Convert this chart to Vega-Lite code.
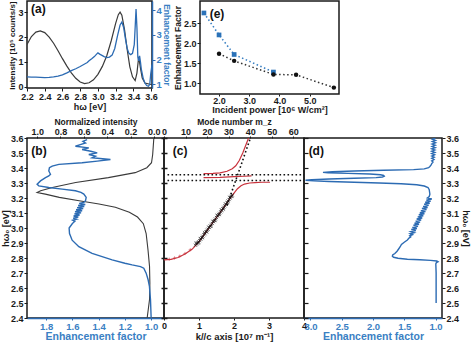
{
  "$schema": "https://vega.github.io/schema/vega-lite/v6.json",
  "padding": {"left": 0, "top": 0, "right": 0, "bottom": 0},
  "background": "white",
  "spacing": 1,
  "config": {
    "view": {"stroke": "#1a1a1a", "strokeWidth": 1.5},
    "axis": {"grid": false, "domain": false, "labelFont": "Liberation Sans", "titleFont": "Liberation Sans", "labelFontWeight": "bold", "titleFontWeight": "bold", "labelFontSize": 9, "titleFontSize": 9, "labelColor": "#1a1a1a", "titleColor": "#1a1a1a", "tickColor": "#1a1a1a", "tickWidth": 1, "labelFlush": false, "labelOverlap": false, "labelBound": false}
  },
  "datasets": {
    "aBlack": [
      {"E":2.2,"v":1.70},{"E":2.25,"v":2.02},{"E":2.3,"v":2.2},{"E":2.35,"v":2.25},{"E":2.4,"v":2.18},{"E":2.45,"v":2.0},{"E":2.5,"v":1.75},{"E":2.55,"v":1.45},{"E":2.6,"v":1.13},{"E":2.65,"v":0.83},{"E":2.7,"v":0.56},{"E":2.75,"v":0.34},{"E":2.8,"v":0.19},{"E":2.85,"v":0.13},{"E":2.9,"v":0.16},{"E":2.95,"v":0.28},{"E":3.0,"v":0.5},{"E":3.05,"v":0.82},{"E":3.1,"v":1.25},{"E":3.15,"v":1.85},{"E":3.2,"v":2.55},{"E":3.23,"v":2.9},{"E":3.25,"v":3.0},{"E":3.27,"v":2.88},{"E":3.3,"v":2.3},{"E":3.33,"v":1.5},{"E":3.36,"v":0.8},{"E":3.39,"v":0.4},{"E":3.42,"v":0.25},{"E":3.44,"v":0.55},{"E":3.46,"v":1.2},{"E":3.48,"v":0.75},{"E":3.5,"v":0.35},{"E":3.53,"v":0.15},{"E":3.61,"v":0.08}
    ],
    "aBlue": [
      {"E":2.2,"ef":1.30},{"E":2.25,"ef":1.29},{"E":2.3,"ef":1.29},{"E":2.35,"ef":1.28},{"E":2.4,"ef":1.27},{"E":2.45,"ef":1.28},{"E":2.5,"ef":1.3},{"E":2.55,"ef":1.33},{"E":2.6,"ef":1.38},{"E":2.65,"ef":1.46},{"E":2.7,"ef":1.55},{"E":2.75,"ef":1.63},{"E":2.8,"ef":1.72},{"E":2.85,"ef":1.82},{"E":2.88,"ef":1.88},{"E":2.9,"ef":1.95},{"E":2.93,"ef":2.03},{"E":2.96,"ef":2.12},{"E":2.98,"ef":2.2},{"E":3.0,"ef":2.27},{"E":3.02,"ef":2.22},{"E":3.04,"ef":2.18},{"E":3.07,"ef":2.12},{"E":3.1,"ef":2.08},{"E":3.13,"ef":2.1},{"E":3.16,"ef":2.18},{"E":3.19,"ef":2.45},{"E":3.22,"ef":2.95},{"E":3.25,"ef":3.4},{"E":3.27,"ef":3.52},{"E":3.29,"ef":3.3},{"E":3.31,"ef":2.85},{"E":3.33,"ef":2.45},{"E":3.35,"ef":2.25},{"E":3.37,"ef":2.2},{"E":3.39,"ef":2.25},{"E":3.41,"ef":2.6},{"E":3.42,"ef":3.3},{"E":3.43,"ef":4.05},{"E":3.44,"ef":3.3},{"E":3.45,"ef":2.1},{"E":3.46,"ef":1.95},{"E":3.47,"ef":2.15},{"E":3.48,"ef":1.9},{"E":3.49,"ef":1.6},{"E":3.51,"ef":1.25},{"E":3.53,"ef":1.05},{"E":3.55,"ef":0.95},{"E":3.57,"ef":0.92},{"E":3.585,"ef":1.0},{"E":3.595,"ef":1.4},{"E":3.61,"ef":1.8}
    ],
    "eBlue": [{"P":1.5,"F":2.76},{"P":2.0,"F":2.21},{"P":2.5,"F":1.72},{"P":3.8,"F":1.28}],
    "eBlack": [{"P":2.0,"F":1.74},{"P":2.5,"F":1.56},{"P":3.8,"F":1.22},{"P":4.55,"F":1.21},{"P":5.8,"F":0.89}],
    "bBlack": [
      {"E":3.6,"I":0.0},{"E":3.49,"I":0.01},{"E":3.435,"I":0.02},{"E":3.402,"I":0.06},{"E":3.369,"I":0.16},{"E":3.336,"I":0.39},{"E":3.303,"I":0.67},{"E":3.27,"I":0.87},{"E":3.248,"I":0.97},{"E":3.237,"I":1.0},{"E":3.226,"I":0.93},{"E":3.204,"I":0.81},{"E":3.182,"I":0.64},{"E":3.16,"I":0.47},{"E":3.138,"I":0.33},{"E":3.105,"I":0.21},{"E":3.073,"I":0.14},{"E":3.029,"I":0.09},{"E":2.963,"I":0.066},{"E":2.853,"I":0.05},{"E":2.743,"I":0.037},{"E":2.633,"I":0.034},{"E":2.523,"I":0.037},{"E":2.402,"I":0.057}
    ],
    "bBlue": [
      {"E":3.589,"ef":1.488},{"E":3.578,"ef":1.52},{"E":3.567,"ef":1.50},{"E":3.556,"ef":1.54},{"E":3.545,"ef":1.577},{"E":3.534,"ef":1.475},{"E":3.523,"ef":1.526},{"E":3.512,"ef":1.46},{"E":3.501,"ef":1.411},{"E":3.49,"ef":1.475},{"E":3.479,"ef":1.424},{"E":3.468,"ef":1.45},{"E":3.457,"ef":1.31},{"E":3.446,"ef":1.41},{"E":3.435,"ef":1.526},{"E":3.424,"ef":1.703},{"E":3.413,"ef":1.754},{"E":3.402,"ef":1.775},{"E":3.38,"ef":1.78},{"E":3.358,"ef":1.767},{"E":3.347,"ef":1.78},{"E":3.336,"ef":1.805},{"E":3.314,"ef":1.843},{"E":3.292,"ef":1.869},{"E":3.281,"ef":1.856},{"E":3.27,"ef":1.78},{"E":3.259,"ef":1.678},{"E":3.248,"ef":1.577},{"E":3.237,"ef":1.535},{"E":3.226,"ef":1.513},{"E":3.204,"ef":1.495},{"E":3.182,"ef":1.50},{"E":3.171,"ef":1.513},
      {"E":3.164,"ef":1.548},{"E":3.157,"ef":1.502},{"E":3.150,"ef":1.556},{"E":3.143,"ef":1.510},{"E":3.136,"ef":1.564},{"E":3.129,"ef":1.518},{"E":3.122,"ef":1.572},{"E":3.115,"ef":1.526},{"E":3.108,"ef":1.580},{"E":3.101,"ef":1.534},{"E":3.094,"ef":1.585},{"E":3.087,"ef":1.545},{"E":3.080,"ef":1.591},{"E":3.073,"ef":1.555},{"E":3.066,"ef":1.594},{"E":3.059,"ef":1.568},{"E":3.052,"ef":1.597},{"E":3.045,"ef":1.581},
      {"E":3.03,"ef":1.60},{"E":3.0,"ef":1.625},{"E":2.963,"ef":1.622},{"E":2.919,"ef":1.602},{"E":2.875,"ef":1.551},{"E":2.831,"ef":1.45},{"E":2.787,"ef":1.297},{"E":2.765,"ef":1.2},{"E":2.754,"ef":1.145},{"E":2.743,"ef":1.081},{"E":2.732,"ef":1.056},{"E":2.699,"ef":1.038},{"E":2.655,"ef":1.023},{"E":2.611,"ef":1.013},{"E":2.523,"ef":1.005},{"E":2.402,"ef":1.0}
    ],
    "cRed": [
      {"k":0.0,"E":2.787,"br":"lo"},{"k":0.2,"E":2.791,"br":"lo"},{"k":0.4,"E":2.803,"br":"lo"},{"k":0.6,"E":2.826,"br":"lo"},{"k":0.8,"E":2.858,"br":"lo"},{"k":0.9,"E":2.883,"br":"lo"},{"k":1.0,"E":2.91,"br":"lo"},{"k":1.2,"E":2.972,"br":"lo"},{"k":1.4,"E":3.038,"br":"lo"},{"k":1.6,"E":3.103,"br":"lo"},{"k":1.8,"E":3.168,"br":"lo"},{"k":1.9,"E":3.2,"br":"lo"},{"k":2.0,"E":3.232,"br":"lo"},{"k":2.1,"E":3.262,"br":"lo"},{"k":2.2,"E":3.282,"br":"lo"},{"k":2.3,"E":3.293,"br":"lo"},{"k":2.45,"E":3.3,"br":"lo"},{"k":2.6,"E":3.303,"br":"lo"},{"k":2.8,"E":3.305,"br":"lo"},{"k":3.03,"E":3.305,"br":"lo"},
      {"k":1.13,"E":3.336,"br":"mid"},{"k":1.6,"E":3.338,"br":"mid"},{"k":2.0,"E":3.342,"br":"mid"},{"k":2.3,"E":3.345,"br":"mid"},{"k":2.5,"E":3.348,"br":"mid"},
      {"k":1.13,"E":3.362,"br":"up"},{"k":1.4,"E":3.364,"br":"up"},{"k":1.6,"E":3.368,"br":"up"},{"k":1.8,"E":3.378,"br":"up"},{"k":1.95,"E":3.395,"br":"up"},{"k":2.05,"E":3.415,"br":"up"},{"k":2.15,"E":3.45,"br":"up"},{"k":2.25,"E":3.5,"br":"up"},{"k":2.35,"E":3.56,"br":"up"},{"k":2.45,"E":3.62,"br":"up"}
    ],
    "cDot": [
      {"k":0.1,"E":3.355,"ln":"h1"},{"k":4.0,"E":3.355,"ln":"h1"},
      {"k":0.1,"E":3.317,"ln":"h2"},{"k":4.0,"E":3.317,"ln":"h2"},
      {"k":1.8,"E":3.15,"ln":"d"},{"k":2.47,"E":3.6,"ln":"d"}
    ],
    "cRedPt": [{"k":0.15,"E":2.792},{"k":0.3,"E":2.8},{"k":0.45,"E":2.812},{"k":0.6,"E":2.83},{"k":0.75,"E":2.855}],
    "cCross": [
      {"k":0.9,"E":2.885},{"k":0.93,"E":2.893},{"k":0.96,"E":2.9},{"k":0.99,"E":2.908},{"k":1.02,"E":2.916},{"k":1.05,"E":2.925},{"k":1.08,"E":2.936},{"k":1.11,"E":2.945},{"k":1.14,"E":2.955},{"k":1.17,"E":2.962},{"k":1.2,"E":2.975},{"k":1.23,"E":2.985},{"k":1.26,"E":2.992},{"k":1.29,"E":3.003},{"k":1.32,"E":3.012},{"k":1.35,"E":3.022},{"k":1.38,"E":3.03},{"k":1.41,"E":3.042},{"k":1.44,"E":3.05},{"k":1.47,"E":3.06},{"k":1.5,"E":3.07},{"k":1.53,"E":3.08},{"k":1.56,"E":3.09},{"k":1.59,"E":3.098},{"k":1.62,"E":3.108},{"k":1.65,"E":3.118},{"k":1.68,"E":3.128},{"k":1.71,"E":3.138},{"k":1.74,"E":3.148},{"k":1.77,"E":3.158},{"k":1.8,"E":3.168},{"k":1.83,"E":3.18},{"k":1.86,"E":3.19},{"k":1.89,"E":3.2},{"k":1.92,"E":3.21},{"k":1.95,"E":3.22},
      {"k":0.92,"E":2.9},{"k":0.98,"E":2.902},{"k":1.04,"E":2.93},{"k":1.1,"E":2.936},{"k":1.16,"E":2.97},{"k":1.22,"E":2.975},{"k":1.28,"E":3.006},{"k":1.34,"E":3.012},{"k":1.4,"E":3.045},{"k":1.46,"E":3.05},{"k":1.52,"E":3.085},{"k":1.58,"E":3.09},{"k":1.64,"E":3.12},{"k":1.7,"E":3.128},{"k":1.76,"E":3.16},{"k":1.82,"E":3.17},{"k":1.88,"E":3.205},{"k":1.94,"E":3.212}
    ],
    "dBlue": [
      {"E":3.6,"ef":1.0},{"E":3.592,"ef":1.05},{"E":3.584,"ef":1.0},{"E":3.576,"ef":1.05},{"E":3.568,"ef":1.0},{"E":3.56,"ef":1.055},{"E":3.552,"ef":1.005},{"E":3.544,"ef":1.055},{"E":3.536,"ef":1.005},{"E":3.528,"ef":1.06},{"E":3.52,"ef":1.01},{"E":3.512,"ef":1.06},{"E":3.504,"ef":1.01},{"E":3.496,"ef":1.06},{"E":3.488,"ef":1.015},{"E":3.48,"ef":1.06},{"E":3.472,"ef":1.02},{"E":3.464,"ef":1.06},{"E":3.456,"ef":1.025},{"E":3.448,"ef":1.06},{"E":3.44,"ef":1.04},{"E":3.43,"ef":1.06},{"E":3.42,"ef":1.07},{"E":3.41,"ef":1.09},{"E":3.402,"ef":1.11},{"E":3.394,"ef":1.18},{"E":3.389,"ef":1.35},{"E":3.385,"ef":1.83},{"E":3.38,"ef":2.3},{"E":3.375,"ef":2.65},{"E":3.371,"ef":2.8},{"E":3.368,"ef":2.72},{"E":3.364,"ef":2.4},{"E":3.36,"ef":2.05},{"E":3.355,"ef":1.88},{"E":3.35,"ef":1.83},{"E":3.345,"ef":1.82},{"E":3.34,"ef":1.85},{"E":3.336,"ef":1.95},{"E":3.332,"ef":2.3},{"E":3.327,"ef":2.7},{"E":3.322,"ef":2.98},{"E":3.318,"ef":3.08},{"E":3.314,"ef":2.95},{"E":3.31,"ef":2.7},{"E":3.305,"ef":2.3},{"E":3.3,"ef":1.9},{"E":3.295,"ef":1.55},{"E":3.288,"ef":1.3},{"E":3.28,"ef":1.18},{"E":3.27,"ef":1.12},{"E":3.255,"ef":1.1},{"E":3.24,"ef":1.095},{"E":3.225,"ef":1.09},{"E":3.21,"ef":1.1},
      {"E":3.2,"ef":1.13},{"E":3.193,"ef":1.059},{"E":3.186,"ef":1.147},{"E":3.179,"ef":1.076},{"E":3.172,"ef":1.164},{"E":3.165,"ef":1.093},{"E":3.158,"ef":1.181},{"E":3.151,"ef":1.11},{"E":3.144,"ef":1.198},{"E":3.137,"ef":1.127},{"E":3.13,"ef":1.216},{"E":3.123,"ef":1.144},{"E":3.116,"ef":1.233},{"E":3.109,"ef":1.161},{"E":3.102,"ef":1.25},{"E":3.095,"ef":1.178},{"E":3.088,"ef":1.267},{"E":3.081,"ef":1.195},{"E":3.074,"ef":1.284},{"E":3.067,"ef":1.213},{"E":3.06,"ef":1.301},{"E":3.053,"ef":1.23},{"E":3.046,"ef":1.318},{"E":3.039,"ef":1.247},{"E":3.032,"ef":1.335},{"E":3.025,"ef":1.264},{"E":3.018,"ef":1.352},{"E":3.011,"ef":1.281},{"E":3.004,"ef":1.37},{"E":2.997,"ef":1.298},{"E":2.99,"ef":1.387},{"E":2.983,"ef":1.315},{"E":2.976,"ef":1.394},{"E":2.969,"ef":1.342},{"E":2.962,"ef":1.406},{"E":2.955,"ef":1.369},{"E":2.948,"ef":1.413},{"E":2.941,"ef":1.396},{"E":2.934,"ef":1.42},
      {"E":2.92,"ef":1.45},{"E":2.905,"ef":1.5},{"E":2.89,"ef":1.545},{"E":2.875,"ef":1.565},{"E":2.86,"ef":1.59},{"E":2.845,"ef":1.615},{"E":2.83,"ef":1.65},{"E":2.82,"ef":1.685},{"E":2.812,"ef":1.69},{"E":2.805,"ef":1.67},{"E":2.798,"ef":1.6},{"E":2.792,"ef":1.45},{"E":2.788,"ef":1.25},{"E":2.784,"ef":1.08},{"E":2.78,"ef":0.98},{"E":2.775,"ef":0.96},{"E":2.77,"ef":0.985},{"E":2.76,"ef":0.995},{"E":2.7,"ef":0.99},{"E":2.6,"ef":0.99},{"E":2.5,"ef":0.99}
    ]
  },
  "vconcat": [
    {
      "spacing": 0,
      "hconcat": [
        {
          "width": 125, "height": 87,
          "layer": [
            {
              "layer": [
                {
                  "data": {"name": "aBlack"},
                  "mark": {"type": "line", "color": "#3a3a3a", "strokeWidth": 1.2, "clip": true},
                  "encoding": {
                    "x": {"field": "E", "type": "quantitative", "scale": {"domain": [2.2, 3.61], "nice": false, "zero": false}, "axis": {"values": [2.2,2.4,2.6,2.8,3.0,3.2,3.4,3.6], "tickCount": 100, "format": ".1f", "title": "hω [eV]", "tickSize": 3, "labelPadding": 1, "titlePadding": 1, "labelOverlap": false}},
                    "y": {"field": "v", "type": "quantitative", "scale": {"domain": [-0.05, 3.45], "nice": false, "zero": false}, "axis": {"orient": "left", "values": [0,1,2,3], "tickCount": 100, "format": "d", "title": "Intensity [10⁵ counts/s]", "titleFontSize": 8, "titleAnchor": "end", "tickSize": 3, "labelPadding": 1, "titlePadding": 1, "labelOverlap": false}}
                  }
                },
                {
                  "data": {"values": [{"E": 2.245, "v": 3.12, "t": "(a)"}]},
                  "mark": {"type": "text", "align": "left", "baseline": "middle", "fontSize": 12, "fontWeight": "bold", "font": "Liberation Sans", "color": "#111"},
                  "encoding": {
                    "x": {"field": "E", "type": "quantitative", "scale": {"domain": [2.2, 3.61], "nice": false, "zero": false}},
                    "y": {"field": "v", "type": "quantitative", "scale": {"domain": [-0.05, 3.45], "nice": false, "zero": false}},
                    "text": {"field": "t"}
                  }
                }
              ]
            },
            {
              "data": {"name": "aBlue"},
              "mark": {"type": "line", "color": "#2c6bb3", "strokeWidth": 1.3, "clip": true},
              "encoding": {
                "x": {"field": "E", "type": "quantitative", "scale": {"domain": [2.2, 3.61], "nice": false, "zero": false}},
                "y": {"field": "ef", "type": "quantitative", "scale": {"domain": [0.85, 4.37], "nice": false, "zero": false}, "axis": {"orient": "right", "values": [1,2,3,4], "tickCount": 100, "format": "d", "title": "Enhancement factor", "titleFontSize": 8.5, "tickSize": 3, "labelPadding": 1, "titlePadding": 0, "labelColor": "#3a80c3", "titleColor": "#3a80c3", "tickColor": "#2c6bb3", "domain": true, "domainColor": "#2c6bb3", "domainWidth": 1.5, "labelFontSize": 9.5, "labelOverlap": false}}
              }
            }
          ],
          "resolve": {"scale": {"y": "independent"}}
        },
        {
          "width": 139, "height": 93,
          "layer": [
            {
              "data": {"name": "eBlue"},
              "mark": {"type": "line", "color": "#3a80c3", "strokeWidth": 1.6, "strokeDash": [1.5, 2.5]},
              "encoding": {
                "x": {"field": "P", "type": "quantitative", "scale": {"domain": [1.37, 5.97], "nice": false, "zero": false}, "axis": {"values": [2,3,4,5], "tickCount": 100, "format": ".1f", "title": "Incident power [10⁶ W/cm²]", "tickSize": 2, "labelPadding": 0, "titlePadding": 0, "labelOverlap": false}},
                "y": {"field": "F", "type": "quantitative", "scale": {"domain": [0.73, 3.06], "nice": false, "zero": false}, "axis": {"values": [1.0,1.5,2.0,2.5], "tickCount": 100, "format": ".1f", "title": "Enhancement Factor", "titleFontSize": 8.5, "tickSize": 3, "labelPadding": 1, "titlePadding": 1, "labelOverlap": false}}
              }
            },
            {
              "data": {"name": "eBlack"},
              "mark": {"type": "line", "color": "#333", "strokeWidth": 1.5, "strokeDash": [1.5, 2.5]},
              "encoding": {
                "x": {"field": "P", "type": "quantitative"},
                "y": {"field": "F", "type": "quantitative"}
              }
            },
            {
              "data": {"name": "eBlue"},
              "mark": {"type": "point", "shape": "square", "filled": true, "size": 22, "color": "#2a72b8", "opacity": 1},
              "encoding": {
                "x": {"field": "P", "type": "quantitative"},
                "y": {"field": "F", "type": "quantitative"}
              }
            },
            {
              "data": {"name": "eBlack"},
              "mark": {"type": "point", "shape": "circle", "filled": true, "size": 20, "color": "#111", "opacity": 1},
              "encoding": {
                "x": {"field": "P", "type": "quantitative"},
                "y": {"field": "F", "type": "quantitative"}
              }
            },
            {
              "data": {"values": [{"P": 1.69, "F": 2.73, "t": "(e)"}]},
              "mark": {"type": "text", "align": "left", "baseline": "middle", "fontSize": 12, "fontWeight": "bold", "font": "Liberation Sans", "color": "#111"},
              "encoding": {
                "x": {"field": "P", "type": "quantitative"},
                "y": {"field": "F", "type": "quantitative"},
                "text": {"field": "t"}
              }
            }
          ]
        }
      ]
    },
    {
      "spacing": 0,
      "bounds": "flush",
      "hconcat": [
        {
          "width": 137, "height": 180,
          "layer": [
            {
              "layer": [
                {
                  "data": {"name": "bBlack"},
                  "mark": {"type": "line", "color": "#3a3a3a", "strokeWidth": 1.1, "clip": true},
                  "encoding": {
                    "x": {"field": "I", "type": "quantitative", "scale": {"domain": [-0.087, 1.087], "reverse": true, "nice": false, "zero": false}, "axis": {"orient": "top", "values": [0,0.2,0.4,0.6,0.8,1.0], "tickCount": 100, "format": ".1f", "title": "Normalized intensity", "tickSize": 2, "labelPadding": 0, "titlePadding": 1, "titleFontSize": 8.5, "labelOverlap": false}},
                    "y": {"field": "E", "type": "quantitative", "scale": {"domain": [2.4, 3.6], "nice": false, "zero": false}, "axis": {"orient": "left", "values": [2.4,2.5,2.6,2.7,2.8,2.9,3.0,3.1,3.2,3.3,3.4,3.5,3.6], "tickCount": 100, "format": ".1f", "title": "hω₀ [eV]", "tickSize": 3, "labelPadding": 1, "titlePadding": 0, "labelOverlap": false}},
                    "order": {"field": "E", "type": "quantitative"}
                  }
                },
                {
                  "data": {"values": [{"I": 1.05, "E": 3.515, "t": "(b)"}]},
                  "mark": {"type": "text", "align": "left", "baseline": "middle", "fontSize": 12, "fontWeight": "bold", "font": "Liberation Sans", "color": "#111"},
                  "encoding": {
                    "x": {"field": "I", "type": "quantitative", "scale": {"domain": [-0.087, 1.087], "reverse": true, "nice": false, "zero": false}},
                    "y": {"field": "E", "type": "quantitative", "scale": {"domain": [2.4, 3.6], "nice": false, "zero": false}},
                    "text": {"field": "t"}
                  }
                }
              ]
            },
            {
              "data": {"name": "bBlue"},
              "mark": {"type": "line", "color": "#2c6bb3", "strokeWidth": 1.4, "clip": true},
              "encoding": {
                "x": {"field": "ef", "type": "quantitative", "scale": {"domain": [0.902, 1.946], "reverse": true, "nice": false, "zero": false}, "axis": {"orient": "bottom", "values": [1.0,1.2,1.4,1.6,1.8], "tickCount": 100, "format": ".1f", "title": "Enhancement factor", "tickSize": 2, "labelPadding": 1, "titlePadding": 1, "labelColor": "#3a80c3", "titleColor": "#3a80c3", "tickColor": "#2c6bb3", "domain": true, "domainColor": "#2c6bb3", "domainWidth": 1.5, "titleFontSize": 10.5, "labelFontSize": 9.5, "labelOverlap": false}},
                "y": {"field": "E", "type": "quantitative", "scale": {"domain": [2.4, 3.6], "nice": false, "zero": false}},
                "order": {"field": "E", "type": "quantitative"}
              }
            }
          ],
          "resolve": {"scale": {"x": "independent"}}
        },
        {
          "width": 140, "height": 180,
          "layer": [
            {
              "layer": [
                {
                  "data": {"name": "cRed"},
                  "mark": {"type": "line", "color": "#c8323c", "strokeWidth": 1.2, "clip": true},
                  "encoding": {
                    "x": {"field": "k", "type": "quantitative", "scale": {"domain": [0, 4], "nice": false, "zero": false}, "axis": {"orient": "bottom", "values": [0,1,2,3,4], "tickCount": 100, "format": "d", "title": "k//c axis [10⁷ m⁻¹]", "tickSize": 2, "labelPadding": 1, "titlePadding": 1, "titleFontSize": 9.5, "labelOverlap": false}},
                    "y": {"field": "E", "type": "quantitative", "scale": {"domain": [2.4, 3.6], "nice": false, "zero": false}, "axis": {"orient": "left", "values": [2.4,2.5,2.6,2.7,2.8,2.9,3.0,3.1,3.2,3.3,3.4,3.5,3.6], "tickCount": 100, "labels": false, "title": null, "tickSize": 6, "offset": -3, "tickWidth": 1.5}},
                    "detail": {"field": "br"}
                  }
                },
                {
                  "data": {"name": "cDot"},
                  "mark": {"type": "line", "color": "#111", "strokeWidth": 1.6, "strokeDash": [1.6, 2.4], "clip": true},
                  "encoding": {
                    "x": {"field": "k", "type": "quantitative"},
                    "y": {"field": "E", "type": "quantitative"},
                    "detail": {"field": "ln"}
                  }
                },
                {
                  "data": {"name": "cRedPt"},
                  "mark": {"type": "point", "shape": "M-1,0L1,0M0,-1L0,1", "filled": false, "size": 10, "color": "#c8323c", "strokeWidth": 0.8},
                  "encoding": {
                    "x": {"field": "k", "type": "quantitative"},
                    "y": {"field": "E", "type": "quantitative"}
                  }
                },
                {
                  "data": {"name": "cCross"},
                  "mark": {"type": "point", "shape": "M-1,-1L1,1M-1,1L1,-1", "filled": false, "size": 10, "color": "#111", "strokeWidth": 0.9},
                  "encoding": {
                    "x": {"field": "k", "type": "quantitative"},
                    "y": {"field": "E", "type": "quantitative"}
                  }
                },
                {
                  "data": {"values": [{"k": 0.25, "E": 3.515, "t": "(c)"}]},
                  "mark": {"type": "text", "align": "left", "baseline": "middle", "fontSize": 12, "fontWeight": "bold", "font": "Liberation Sans", "color": "#111"},
                  "encoding": {
                    "x": {"field": "k", "type": "quantitative"},
                    "y": {"field": "E", "type": "quantitative"},
                    "text": {"field": "t"}
                  }
                }
              ]
            },
            {
              "data": {"values": [{"m": 0}, {"m": 65}]},
              "mark": {"type": "point", "opacity": 0},
              "encoding": {
                "x": {"field": "m", "type": "quantitative", "scale": {"domain": [0, 65], "nice": false, "zero": false}, "axis": {"orient": "top", "values": [0,10,20,30,40,50,60], "tickCount": 100, "format": "d", "title": "Mode number m_z", "tickSize": 2, "labelPadding": 0, "titlePadding": 1, "titleFontSize": 8.5, "labelOverlap": false}}
              }
            }
          ],
          "resolve": {"scale": {"x": "independent"}}
        },
        {
          "width": 138, "height": 180,
          "layer": [
            {
              "layer": [
                {
                  "data": {"name": "dBlue"},
                  "mark": {"type": "line", "color": "#2c6bb3", "strokeWidth": 1.4, "clip": true},
                  "encoding": {
                    "x": {"field": "ef", "type": "quantitative", "scale": {"domain": [0.896, 3.104], "reverse": true, "nice": false, "zero": false}, "axis": {"orient": "bottom", "values": [1.0,1.5,2.0,2.5,3.0], "tickCount": 100, "format": ".1f", "title": "Enhancement factor", "tickSize": 2, "labelPadding": 1, "titlePadding": 1, "labelColor": "#3a80c3", "titleColor": "#3a80c3", "tickColor": "#2c6bb3", "domain": true, "domainColor": "#2c6bb3", "domainWidth": 1.5, "titleFontSize": 10.5, "labelFontSize": 9.5, "labelOverlap": false}},
                    "y": {"field": "E", "type": "quantitative", "scale": {"domain": [2.4, 3.6], "nice": false, "zero": false}, "axis": {"orient": "right", "values": [2.4,2.5,2.6,2.7,2.8,2.9,3.0,3.1,3.2,3.3,3.4,3.5,3.6], "tickCount": 100, "format": ".1f", "title": "hω₀ [eV]", "tickSize": 3, "labelPadding": 1, "titlePadding": 2, "labelOverlap": false}},
                    "order": {"field": "E", "type": "quantitative"}
                  }
                },
                {
                  "data": {"values": [{"ef": 3.03, "E": 3.515, "t": "(d)"}]},
                  "mark": {"type": "text", "align": "left", "baseline": "middle", "fontSize": 12, "fontWeight": "bold", "font": "Liberation Sans", "color": "#111"},
                  "encoding": {
                    "x": {"field": "ef", "type": "quantitative"},
                    "y": {"field": "E", "type": "quantitative"},
                    "text": {"field": "t"}
                  }
                }
              ]
            },
            {
              "data": {"values": [{"E2": 2.4}, {"E2": 3.6}]},
              "mark": {"type": "point", "opacity": 0},
              "encoding": {
                "y": {"field": "E2", "type": "quantitative", "scale": {"domain": [2.4, 3.6], "nice": false, "zero": false}, "axis": {"orient": "left", "values": [2.4,2.5,2.6,2.7,2.8,2.9,3.0,3.1,3.2,3.3,3.4,3.5,3.6], "tickCount": 100, "labels": false, "title": null, "tickSize": 4, "offset": -4, "tickWidth": 1.2}}
              }
            }
          ],
          "resolve": {"scale": {"y": "independent"}}
        }
      ]
    }
  ]
}
